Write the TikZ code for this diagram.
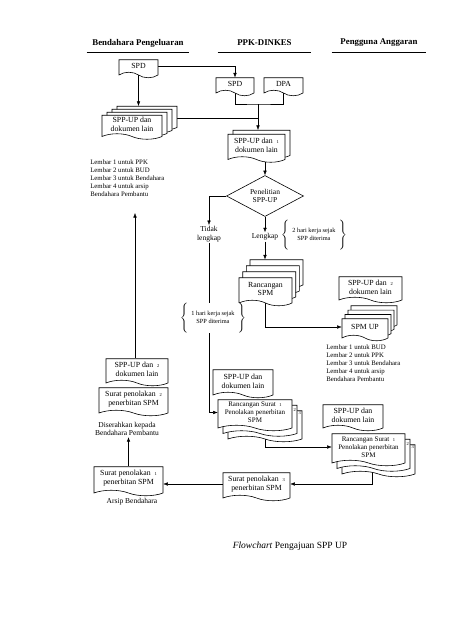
\documentclass[tikz,border=0pt]{standalone}
\usepackage{fontspec}
\setmainfont{Liberation Serif}
\usetikzlibrary{shapes.symbols,shapes.geometric,shadows,arrows.meta,backgrounds}
\newcommand{\nmr}[1]{{\fontsize{4.5}{5}\selectfont #1}}
\tikzset{
  doc/.style={tape,draw,fill=white,tape bend top=none,tape bend bottom=out and in,
    tape bend height=5.5pt,align=center,inner sep=1pt,font=\fontsize{7.8}{8.8}\selectfont},
  behind/.style 2 args={copy shadow={shadow xshift=#1,shadow yshift=#2}},
  arr/.style={-{Latex[length=4.5pt,width=3.5pt]}},
  hdr/.style={font=\fontsize{8.8}{10}\selectfont\bfseries,minimum height=18pt,inner sep=0pt},
  note/.style={align=left,inner sep=0pt,font=\fontsize{6.8}{8}\selectfont},
  lbl/.style={align=center,inner sep=1pt,font=\fontsize{7.5}{8.5}\selectfont},
  span/.style={inner sep=0pt,fill=white,font=\fontsize{6.3}{7.5}\selectfont},
}
\begin{document}
\begin{tikzpicture}[x=1pt,y=-1pt,line width=0.6pt]
\useasboundingbox (0,0) rectangle (474,632);
% kolom
\node[hdr,minimum width=102pt] (hdrA) at (138,43) {Bendahara Pengeluaran};
\node[hdr,minimum width=93pt] (hdrB) at (264.5,43) {PPK-DINKES};
\node[hdr,minimum width=94pt] (hdrC) at (379,43) {Pengguna Anggaran};
\foreach \h in {hdrA,hdrB,hdrC}
  \draw[line width=1.1pt] (\h.south west)--(\h.south east);
% dokumen
\node[doc,minimum width=39pt,minimum height=18pt] (spdA) at (138.5,66) {SPD};
\node[doc,minimum width=38pt,minimum height=18pt] (spdB) at (235,84) {SPD};
\node[doc,minimum width=39pt,minimum height=18pt] (dpa) at (283.5,84) {DPA};
\node[doc,minimum width=60pt,minimum height=24pt,behind={15pt}{9pt},behind={10pt}{6pt},behind={5pt}{3pt}]
  (sppA) at (132,124.5) {SPP-UP dan\\dokumen lain};
\node[doc,minimum width=57pt,minimum height=28pt,behind={5pt}{4pt}]
  (sppB) at (256.5,145.5) {SPP-UP dan\ \ \nmr{1}\\dokumen lain};
\node[diamond,draw,fill=white,aspect=1.9,minimum width=77pt,minimum height=41pt,inner sep=0pt,
  align=center,font=\fontsize{7.5}{8.5}\selectfont] (chk) at (265,196) {Penelitian\\SPP-UP};
\node[lbl] (tidak) at (209,234) {Tidak\\lengkap};
\node[lbl] (lengkap) at (265,237) {Lengkap};
\node[span] (hari2) at (314,235)
  {$\left\{\rule[-12pt]{0pt}{25pt}\;\right.$\begin{tabular}{@{}c@{}}2 hari kerja sejak\\SPP diterima\end{tabular}$\left.\rule[-12pt]{0pt}{25pt}\;\right\}$};
\node[doc,minimum width=53pt,minimum height=28pt,behind={11pt}{18pt},behind={7.4pt}{12pt},behind={3.7pt}{6pt}]
  (rancSPM) at (265.5,289) {Rancangan\\SPM};
\node[doc,minimum width=63pt,minimum height=26pt] (sppC) at (370.5,287) {SPP-UP dan\ \ \nmr{2}\\dokumen lain};
\node[doc,minimum width=46pt,minimum height=22pt,behind={9pt}{13pt},behind={6pt}{8.6pt},behind={3pt}{4.3pt}]
  (spmUP) at (365,327) {SPM UP};
\node[note,anchor=north west] (lembarR) at (326,344)
  {Lembar 1 untuk BUD\\Lembar 2 untuk PPK\\Lembar 3 untuk Bendahara\\Lembar 4 untuk arsip\\Bendahara Pembantu};
\node[note,anchor=north west] (lembarL) at (90,159)
  {Lembar 1 untuk PPK\\Lembar 2 untuk BUD\\Lembar 3 untuk Bendahara\\Lembar 4 untuk arsip\\Bendahara Pembantu};
\node[doc,minimum width=62pt,minimum height=27pt] (sppD) at (137,369.5) {SPP-UP dan\ \ \nmr{2}\\dokumen lain};
\node[doc,minimum width=69pt,minimum height=28pt] (surat2) at (133.5,399) {Surat penolakan\ \ \nmr{2}\\penerbitan SPM};
\node[lbl] (serah) at (127,429) {Diserahkan kepada\\Bendahara Pembantu};
\node[doc,minimum width=69pt,minimum height=29pt] (surat1) at (128.5,478.5) {Surat penolakan\ \ \nmr{1}\\penerbitan SPM};
\node[lbl] (arsip) at (132,502) {Arsip Bendahara};
\node[doc,minimum width=60pt,minimum height=28pt] (sppE) at (243,381) {SPP-UP dan\\dokumen lain};
\node[doc,minimum width=74pt,minimum height=31pt,font=\fontsize{7}{8}\selectfont,behind={10pt}{-11pt},behind={5pt}{-5.5pt}]
  (rancSuratA) at (255,412.5) {Rancangan Surat\ \ \nmr{1}\\Penolakan penerbitan\\SPM};
\node[doc,minimum width=60pt,minimum height=26pt] (sppF) at (353,415) {SPP-UP dan\\dokumen lain};
\node[doc,minimum width=73pt,minimum height=32pt,font=\fontsize{7}{8}\selectfont,behind={10pt}{-11pt},behind={5pt}{-5.5pt}]
  (rancSuratB) at (368.5,447) {Rancangan Surat\ \ \nmr{1}\\Penolakan penerbitan\\SPM};
\node[doc,minimum width=67pt,minimum height=28pt] (surat3) at (256.5,484) {Surat penolakan\ \ \nmr{3}\\penerbitan SPM};
\foreach \r in {rancSuratA,rancSuratB}{
  \node[inner sep=0pt,font=\fontsize{4.5}{5}\selectfont] at ([xshift=2.5pt,yshift=-11pt]\r.north east) {2};
  \node[inner sep=0pt,font=\fontsize{4.5}{5}\selectfont] at ([xshift=7.5pt,yshift=-14pt]\r.north east) {3};
}
\node[font=\fontsize{9.5}{11}\selectfont] (cap) at (290,546) {\textit{Flowchart} Pengajuan SPP UP};
% titik bantu
\coordinate (jn) at (258,104);
\coordinate (sppAtop) at ([yshift=9pt]sppA.north);
\coordinate (sppAout) at ([yshift=6.5pt]sppA.center);
\coordinate (sppBtop) at ([yshift=4pt]sppB.north);
\coordinate (rancTop) at ([yshift=18pt]rancSPM.north);
\coordinate (upTip) at (135,213);
\coordinate (rancAbot) at ([xshift=10pt,yshift=-11pt]rancSuratA.south);
\coordinate (rancBbot) at ([xshift=3.5pt,yshift=-11pt]rancSuratB.south);
% alur
\begin{scope}[on background layer]
\draw[arr] (spdA.east) -| (spdB.north);
\draw[arr] (spdA.south) -- (spdA.south |- sppAtop);
\draw (spdB.south) |- (jn) -| (dpa.south);
\draw[arr] (jn) -- (jn |- sppBtop);
\draw (sppAout) -- (sppAout -| jn);
\draw[arr] (sppB.south -| chk.north) -- (chk.north);
\draw[arr] (chk.west) -| (tidak.north);
\draw[arr] (chk.south) -- (lengkap.north);
\draw[arr] (lengkap.south) -- (lengkap.south |- rancTop);
\draw[arr] (rancSPM.south) |- (spmUP.west);
\draw[arr] (upTip |- sppD.north) -- (upTip);
\draw[arr] (surat1.north) -- (surat1.north |- serah.south);
\draw[arr] (tidak.south) |- (rancSuratA.west);
\draw[arr] (rancAbot) |- (rancSuratB.west);
\draw[arr] (rancBbot) |- (surat3.east);
\draw[arr] (surat3.west) -- (surat3.west -| surat1.east);
\end{scope}
\node[span] (hari1) at (213,318)
  {$\left\{\rule[-12pt]{0pt}{25pt}\;\right.$\begin{tabular}{@{}c@{}}1 hari kerja sejak\\SPP diterima\end{tabular}$\left.\rule[-12pt]{0pt}{25pt}\;\right\}$};
\end{tikzpicture}
\end{document}
